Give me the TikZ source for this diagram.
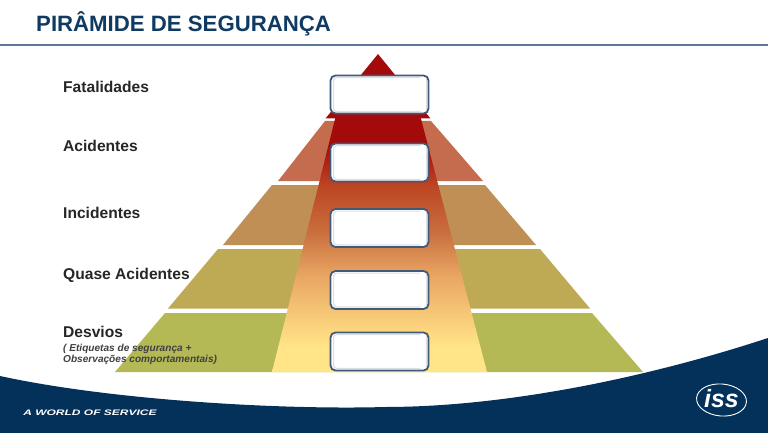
\documentclass[tikz,border=0pt]{standalone}
\usepackage{fontspec}
\usetikzlibrary{shapes.geometric}
\setmainfont{Liberation Sans}
\definecolor{navy}{HTML}{04315A}
\definecolor{titleblue}{HTML}{0F3A62}
\definecolor{rulecol}{HTML}{5A7A98}
\definecolor{boxedge}{HTML}{41597A}
\definecolor{boxin}{HTML}{DDE0E3}
\definecolor{tiera}{HTML}{A30A0A}
\definecolor{tierb}{HTML}{C66C4E}
\definecolor{tierc}{HTML}{BF8F55}
\definecolor{tierd}{HTML}{BEAA55}
\definecolor{tiere}{HTML}{B4B955}
\definecolor{s0}{HTML}{FFE488}
\definecolor{s1}{HTML}{FBD27C}
\definecolor{s2}{HTML}{E8A562}
\definecolor{s3}{HTML}{C96F3E}
\definecolor{s4}{HTML}{BC4422}
\definecolor{s5}{HTML}{A30A0A}
\pgfdeclareverticalshading{bandshade}{100bp}{
  color(0bp)=(s0);
  color(30bp)=(s0);
  color(34bp)=(s1);
  color(43.9bp)=(s2);
  color(52.2bp)=(s3);
  color(61.4bp)=(s4);
  color(69bp)=(s5);
  color(100bp)=(s5)}
\tikzset{
  x=1pt,y=-1pt,
  infobox/.style={draw=boxedge,line width=1.8pt,fill=white,rounded corners=5pt,
    minimum width=98pt,minimum height=38pt,inner sep=0pt},
  boxinner/.style={draw=boxin,line width=1.2pt,rounded corners=3pt},
  tierlabel/.style={anchor=west,inner sep=0pt,font=\fontsize{15.6}{17}\selectfont\bfseries,text=black!85},
  sublabel/.style={anchor=west,inner sep=0pt,font=\fontsize{10.1}{12}\selectfont\bfseries\itshape,text=black!75}
}
\begin{document}
\begin{tikzpicture}
\useasboundingbox (0,0) rectangle (768,433);
\fill[white] (0,0) rectangle (768,433);
% title
\node[anchor=west,inner sep=0pt,text=titleblue,font=\fontsize{22.2}{24}\selectfont\bfseries] (title) at (36,24) {PIRÂMIDE DE SEGURANÇA};
\coordinate (ruleL) at (0,45.5);
\coordinate (ruleR) at (768,45.5);
\draw[rulecol,line width=2pt] (ruleL) -- (ruleR);
% tiers
\fill[tiera] (378,54) -- (325.5,118.5) -- (430.5,118.5) -- cycle;
\fill[tierb] (325,121) -- (431,121) -- (483,181) -- (278,181) -- cycle;
\fill[tierc] (272,185) -- (485,185) -- (536,245) -- (223,245) -- cycle;
\fill[tierd] (218,249) -- (540,249) -- (590,308.5) -- (168,308.5) -- cycle;
\fill[tiere] (165,313) -- (592,313) -- (643,372) -- (115,372) -- cycle;
% central band
\path[shading=bandshade] (336,115) -- (420,115) -- (487,372) -- (272,372) -- cycle;
% swoosh
\fill[navy] (0,376) .. controls (110,400) and (280,410) .. (385,407)
  .. controls (500,407) and (640,380) .. (768,338) -- (768,433) -- (0,433) -- cycle;
% boxes
\node[infobox] (b1) at (379.5,94.5) {};
\node[infobox] (b2) at (379.5,162.5) {};
\node[infobox] (b3) at (379.5,228) {};
\node[infobox] (b4) at (379.5,290) {};
\node[infobox] (b5) at (379.5,351.5) {};
\foreach \b in {b1,b2,b3,b4,b5}{
  \draw[boxinner] ([shift={(91,3)}]\b.north west) -- ([shift={(4,3)}]\b.north west) -- ([shift={(4,-3)}]\b.south west) -- ([shift={(91,-3)}]\b.south west);
  \draw[boxinner] ([shift={(-3,4)}]\b.north east) -- ([shift={(-3,-4)}]\b.south east);
}
% labels
\node[tierlabel] (l1) at (63,87) {Fatalidades};
\node[tierlabel] (l2) at (63,146) {Acidentes};
\node[tierlabel] (l3) at (63,213) {Incidentes};
\node[tierlabel] (l4) at (63,275) {Quase Acidentes};
\node[tierlabel] (l5) at (63,332) {Desvios};
\node[sublabel] (s1) at (63,349) {( Etiquetas de segurança +};
\node[sublabel] (s2) at (63,360) {Observações comportamentais)};
% footer
\node[anchor=west,inner sep=0pt,text=white,xscale=1.5,font=\fontsize{8}{10}\selectfont\bfseries\itshape] (slogan) at (23,413) {A WORLD OF SERVICE};
% logo
\node[draw=white,line width=0.9pt,ellipse,rotate=-5,minimum width=50pt,minimum height=32pt,inner sep=0pt] (logoring) at (721.5,400) {};
\node[text=white,inner sep=0pt,font=\fontsize{25}{26}\selectfont\bfseries\itshape] (logo) at (721.5,399) {iss};
\end{tikzpicture}
\end{document}
